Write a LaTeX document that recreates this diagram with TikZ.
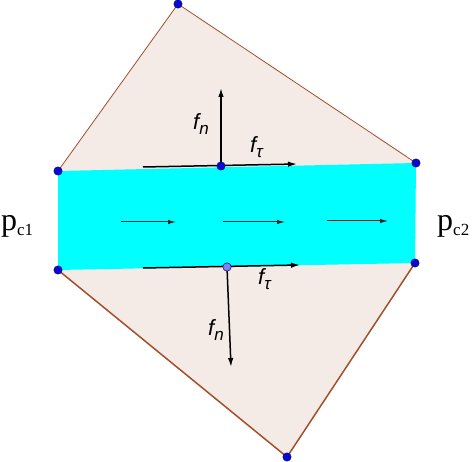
\documentclass[tikz,border=0pt]{standalone}
\usepackage{fontspec}
\setmainfont{Liberation Serif}
\newfontfamily\lblfont{Liberation Sans}
\usepackage{tikz}
\usetikzlibrary{
    arrows.meta,
    calc,
    positioning
}

\definecolor{cellfill}{HTML}{F4EAE6}
\definecolor{celledge}{HTML}{A0502D}
\definecolor{channel}{RGB}{0,255,255}
\definecolor{vtxblue}{HTML}{0A0AD0}
\definecolor{vtxlight}{HTML}{8080F0}

\tikzset{
    force/.style={-{Latex[length=9pt,width=5.5pt]}, line width=1.5pt, black},
    flow/.style={-{Latex[length=8pt,width=4.5pt]}, line width=1pt, black!85},
    flabel/.style={anchor=base west, inner sep=0pt},
    plabel/.style={anchor=base west, inner sep=0pt}
}
\newcommand{\flbl}[1]{{\lblfont\itshape\fontsize{22}{22}\selectfont f\raisebox{-5pt}{\fontsize{17}{17}\selectfont #1}}}
\newcommand{\plbl}[1]{{\fontsize{32}{32}\selectfont p\raisebox{-5pt}{\fontsize{17}{17}\selectfont #1}}}

\begin{document}
\begin{tikzpicture}[x=1pt, y=-1pt]
    \useasboundingbox (0,0) rectangle (474,462);

    % vertices of the two cells
    \coordinate (top) at (178,4);
    \coordinate (ul)  at (58,171);
    \coordinate (ur)  at (416,163);
    \coordinate (lr)  at (415,263);
    \coordinate (ll)  at (58,270);
    \coordinate (bot) at (287,457);

    \fill[cellfill] (top) -- (ur) -- (lr) -- (bot) -- (ll) -- (ul) -- cycle;
    \draw[celledge, line width=0.8pt] (ul) -- (top) -- (ur);
    \draw[celledge, line width=1.5pt] (ll) -- (bot) -- (lr);

    % channel
    \fill[channel] (ul) -- (ur) -- (lr) -- (ll) -- cycle;

    % flow inside channel
    \coordinate (a1) at (121,222); \coordinate (b1) at (176,222);
    \coordinate (a2) at (223,222); \coordinate (b2) at (285,222);
    \coordinate (a3) at (327,221); \coordinate (b3) at (388,221);
    \draw[flow] (a1) -- (b1);
    \draw[flow] (a2) -- (b2);
    \draw[flow] (a3) -- (b3);

    % forces on the upper wall
    \coordinate (mu)  at (221,166);
    \coordinate (tu0) at (143,167);
    \coordinate (tu1) at (297,164);
    \coordinate (nu)  at (221,88);
    \draw[force] (tu0) -- (tu1);
    \draw[force] (mu) -- (nu);

    % forces on the lower wall
    \coordinate (md)  at (227,267);
    \coordinate (td0) at (143,268);
    \coordinate (td1) at (300,265);
    \coordinate (nd)  at (231,367);
    \draw[force] (td0) -- (td1);
    \draw[force] (md) -- (nd);

    \node[flabel] (fnup)  at (193,130) {\flbl{n}};
    \node[flabel] (ftup)  at (250,153) {\flbl{τ}};
    \node[flabel] (ftdn)  at (258,285) {\flbl{τ}};
    \node[flabel] (fndn)  at (208,336) {\flbl{n}};

    \node[plabel] (pc1) at (1,231)   {\plbl{c1}};
    \node[plabel] (pc2) at (437,231) {\plbl{c2}};

    \filldraw[vtxblue, draw=blue!40!black, line width=0.4pt]
        (top) circle [radius=4.2pt]
        (ul)  circle [radius=4.2pt]
        (ur)  circle [radius=4.2pt]
        (lr)  circle [radius=4.2pt]
        (ll)  circle [radius=4.2pt]
        (bot) circle [radius=4.2pt]
        (mu)  circle [radius=4.2pt];
    \filldraw[vtxlight, draw=blue!40!black, line width=0.5pt]
        (md) circle [radius=4.2pt];
\end{tikzpicture}
\end{document}
